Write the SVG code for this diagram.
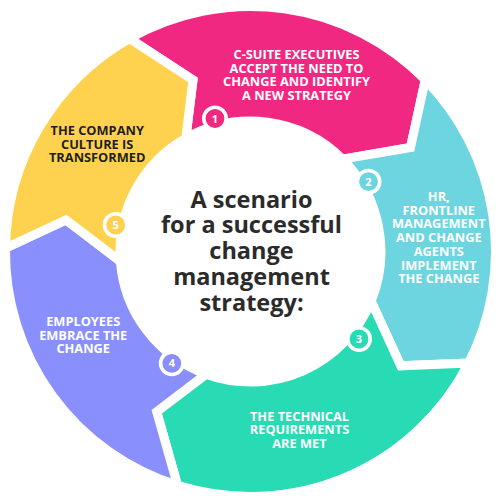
<svg xmlns="http://www.w3.org/2000/svg" width="500" height="503" viewBox="0 0 500 503">
<style>
.seg{stroke:#fff;stroke-width:9;stroke-linejoin:miter;stroke-miterlimit:10}
.lbl{font-family:"Open Sans","Liberation Sans",sans-serif;font-weight:700;font-size:12.8px;text-anchor:middle;fill:#fff}
.dark{fill:#1e1e1e}
.badge{stroke:#fff;stroke-width:3.6}
.num{font-family:"Open Sans","Liberation Sans",sans-serif;font-weight:700;font-size:11px;text-anchor:middle;fill:#fff}
.title{font-family:"Open Sans","Liberation Sans",sans-serif;font-weight:700;font-size:23.5px;text-anchor:middle;fill:#2b2b2b}
</style>
<rect width="500" height="503" fill="#fff"/>
<g id="step1">
<path class="seg" fill="#F12882" d="M129.5,38.5 A245,245 0 0 1 425.3,79.8 L410.5,147.5 L342.6,159.1 A130.5,130.5 0 0 0 185.8,138.1 L193,80 Z"/>
<text class="lbl"><tspan x="296.5" y="59">C-SUITE EXECUTIVES</tspan><tspan x="296.5" y="72.7">ACCEPT THE NEED TO</tspan><tspan x="296.5" y="86.4">CHANGE AND IDENTIFY</tspan><tspan x="296.5" y="100">A NEW STRATEGY</tspan></text>
<circle class="badge" cx="215" cy="118.5" r="11.2" fill="#F12882"/>
<text class="num" x="215" y="122.5">1</text>
</g>
<g id="step2">
<path class="seg" fill="#6CD5E0" d="M425.3,79.8 A245,245 0 0 1 468.6,363.1 L400.8,365.8 L371.1,301.2 A130.5,130.5 0 0 0 342.6,159.1 L410.5,147.5 Z"/>
<text class="lbl"><tspan x="438.8" y="201">HR,</tspan><tspan x="438.8" y="214.7">FRONTLINE</tspan><tspan x="438.8" y="228.4">MANAGEMENT</tspan><tspan x="438.8" y="242.1">AND CHANGE</tspan><tspan x="438.8" y="255.8">AGENTS</tspan><tspan x="438.8" y="269.5">IMPLEMENT</tspan><tspan x="438.8" y="283.2">THE CHANGE</tspan></text>
<circle class="badge" cx="368.5" cy="181.7" r="11.2" fill="#6CD5E0"/>
<text class="num" x="368.5" y="185.7">2</text>
</g>
<g id="step3">
<path class="seg" fill="#28DBB4" d="M468.6,363.1 A245,245 0 0 1 177.6,485.4 L156.7,411.7 L206.1,374.2 A130.5,130.5 0 0 0 371.1,301.2 L400.8,365.8 Z"/>
<text class="lbl"><tspan x="299.5" y="420.7">THE TECHNICAL</tspan><tspan x="299.5" y="434.4">REQUIREMENTS</tspan><tspan x="299.5" y="448.1">ARE MET</tspan></text>
<circle class="badge" cx="359" cy="339" r="11.2" fill="#28DBB4"/>
<text class="num" x="359" y="343">3</text>
</g>
<g id="step4">
<path class="seg" fill="#898FFC" d="M177.6,485.4 A245,245 0 0 1 5.5,248.1 L66,220 L120.4,261.3 A130.5,130.5 0 0 0 206.1,374.2 L156.7,411.7 Z"/>
<text class="lbl"><tspan x="83.2" y="326">EMPLOYEES</tspan><tspan x="83.2" y="339.7">EMBRACE THE</tspan><tspan x="83.2" y="353.4">CHANGE</tspan></text>
<circle class="badge" cx="171.8" cy="363.3" r="11.2" fill="#898FFC"/>
<text class="num" x="171.8" y="367.3">4</text>
</g>
<g id="step5">
<path class="seg" fill="#FED24E" d="M5.5,248.1 A245,245 0 0 1 129.5,38.5 L193,80 L185.8,138.1 A130.5,130.5 0 0 0 120.4,261.3 L66,220 Z"/>
<text class="lbl dark"><tspan x="97.2" y="135">THE COMPANY</tspan><tspan x="97.2" y="148.7">CULTURE IS</tspan><tspan x="97.2" y="162.4">TRANSFORMED</tspan></text>
<circle class="badge" cx="115.7" cy="225" r="11.2" fill="#FED24E"/>
<text class="num dark" x="115.7" y="229">5</text>
</g>
<g id="title">
<text class="title"><tspan x="251.5" y="207.5">A scenario</tspan><tspan x="251.5" y="233.3">for a successful</tspan><tspan x="251.5" y="259">change</tspan><tspan x="251.5" y="285">management</tspan><tspan x="251.5" y="311">strategy:</tspan></text>
</g>
<g id="connectors"></g>
</svg>
